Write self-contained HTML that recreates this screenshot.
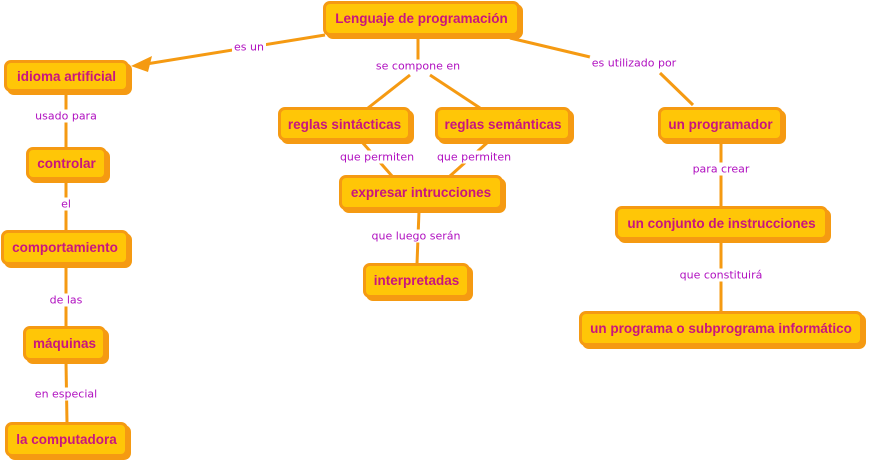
<!DOCTYPE html>
<html><head><meta charset="utf-8"><style>
body{margin:0;width:869px;height:462px;background:#fff;position:relative;overflow:hidden;font-family:"Liberation Sans","DejaVu Sans",sans-serif}
.n{position:absolute;box-sizing:border-box;background:#FFC607;border:3px solid #F59A12;border-radius:7px;box-shadow:3px 3px 0 #F59A12;color:#C8157F;font-size:13.5px;font-weight:bold;display:flex;align-items:center;justify-content:center;white-space:nowrap}
.l{position:absolute;color:#B010C0;font-family:"DejaVu Sans",sans-serif;font-size:11px;background:#fff;padding:0 2px;transform:translate(-50%,-50%);white-space:nowrap;line-height:13px}
svg{position:absolute;left:0;top:0}
</style></head><body>
<svg width="869" height="462"><g stroke="#F59A12" stroke-width="3" fill="none">
<line x1="325" y1="35" x2="140" y2="65"/>
<line x1="418" y1="36" x2="418" y2="66"/>
<line x1="410" y1="75" x2="368" y2="108"/>
<line x1="430" y1="75" x2="480" y2="108"/>
<line x1="510" y1="38" x2="590" y2="57"/>
<line x1="660" y1="73" x2="693" y2="105"/>
<line x1="66" y1="92" x2="66" y2="148"/>
<line x1="66" y1="180" x2="66" y2="231"/>
<line x1="66" y1="266" x2="66" y2="327"/>
<line x1="66" y1="362" x2="67" y2="423"/>
<line x1="362" y1="142" x2="392" y2="176"/>
<line x1="488" y1="142" x2="450" y2="176"/>
<line x1="419" y1="211" x2="417" y2="264"/>
<line x1="721" y1="142" x2="721" y2="207"/>
<line x1="721" y1="241" x2="721" y2="312"/>
</g>
<polygon points="131,66 152,56 148,72" fill="#F59A12"/>
</svg>
<div class="l" style="left:249px;top:47px">es un</div>
<div class="l" style="left:418px;top:66px">se compone en</div>
<div class="l" style="left:634px;top:63px">es utilizado por</div>
<div class="l" style="left:66px;top:116px">usado para</div>
<div class="l" style="left:66px;top:204px">el</div>
<div class="l" style="left:66px;top:300px">de las</div>
<div class="l" style="left:66px;top:394px">en especial</div>
<div class="l" style="left:377px;top:157px">que permiten</div>
<div class="l" style="left:474px;top:157px">que permiten</div>
<div class="l" style="left:416px;top:236px">que luego serán</div>
<div class="l" style="left:721px;top:169px">para crear</div>
<div class="l" style="left:721px;top:275px">que constituirá</div>

<div class="n" style="left:323px;top:1px;width:197px;height:35px">Lenguaje de programación</div>
<div class="n" style="left:4px;top:60px;width:125px;height:32px">idioma artificial</div>
<div class="n" style="left:26px;top:147px;width:81px;height:33px">controlar</div>
<div class="n" style="left:1px;top:230px;width:128px;height:35px">comportamiento</div>
<div class="n" style="left:23px;top:326px;width:83px;height:35px">máquinas</div>
<div class="n" style="left:5px;top:422px;width:123px;height:35px">la computadora</div>
<div class="n" style="left:278px;top:107px;width:133px;height:34px">reglas sintácticas</div>
<div class="n" style="left:435px;top:107px;width:136px;height:34px">reglas semánticas</div>
<div class="n" style="left:339px;top:175px;width:164px;height:35px">expresar intrucciones</div>
<div class="n" style="left:363px;top:263px;width:107px;height:35px">interpretadas</div>
<div class="n" style="left:658px;top:107px;width:125px;height:34px">un programador</div>
<div class="n" style="left:615px;top:206px;width:213px;height:34px">un conjunto de instrucciones</div>
<div class="n" style="left:579px;top:311px;width:284px;height:35px">un programa o subprograma informático</div>
</body></html>
